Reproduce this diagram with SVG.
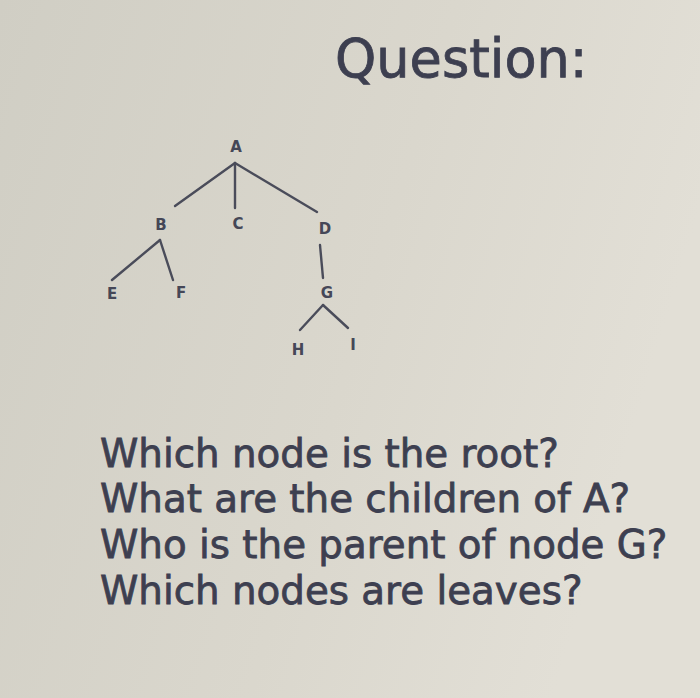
<svg xmlns="http://www.w3.org/2000/svg" width="700" height="698" viewBox="0 0 700 698">
<defs>
<linearGradient id="bg" x1="0" y1="0" x2="1" y2="0.3">
<stop offset="0" stop-color="#d0cec4"/>
<stop offset="0.6" stop-color="#dad7cd"/>
<stop offset="1" stop-color="#e2dfd6"/>
</linearGradient>
<style>
.lbl{font-family:"DejaVu Sans",Verdana,sans-serif;font-size:15px;font-weight:bold;fill:#454757;text-anchor:middle}
.edge{stroke:#4a4c5a;stroke-width:2.4;fill:none;stroke-linecap:round}
.q{font-family:"DejaVu Sans",Verdana,sans-serif;font-size:38.8px;fill:#3d3f50;stroke:#3d3f50;stroke-width:0.8}
.title{font-family:"DejaVu Sans",Verdana,sans-serif;font-size:52.5px;fill:#3d3f50;stroke:#3d3f50;stroke-width:0.8}
</style>
</defs>
<rect width="700" height="698" fill="url(#bg)"/>
<text class="title" x="335" y="77">Question:</text>
<g id="connectors">
<path class="edge" d="M235 163 L175 206"/>
<path class="edge" d="M235 163 L235 208"/>
<path class="edge" d="M235 163 L317 212"/>
<path class="edge" d="M160 240 L112 280"/>
<path class="edge" d="M160 240 L173 280"/>
<path class="edge" d="M320 245 L323 278"/>
<path class="edge" d="M323 305 L300 330"/>
<path class="edge" d="M323 305 L348 328"/>
</g>
<g id="node-A"><text class="lbl" x="236" y="152">A</text></g>
<g id="node-B"><text class="lbl" x="161" y="230">B</text></g>
<g id="node-C"><text class="lbl" x="238" y="229">C</text></g>
<g id="node-D"><text class="lbl" x="325" y="234">D</text></g>
<g id="node-E"><text class="lbl" x="112" y="299">E</text></g>
<g id="node-F"><text class="lbl" x="181" y="298">F</text></g>
<g id="node-G"><text class="lbl" x="327" y="298">G</text></g>
<g id="node-H"><text class="lbl" x="298" y="355">H</text></g>
<g id="node-I"><text class="lbl" x="353" y="350">I</text></g>
<text class="q" x="100" y="467">Which node is the root?</text>
<text class="q" x="100" y="512">What are the children of A?</text>
<text class="q" x="100" y="558">Who is the parent of node G?</text>
<text class="q" x="100" y="604">Which nodes are leaves?</text>
</svg>
